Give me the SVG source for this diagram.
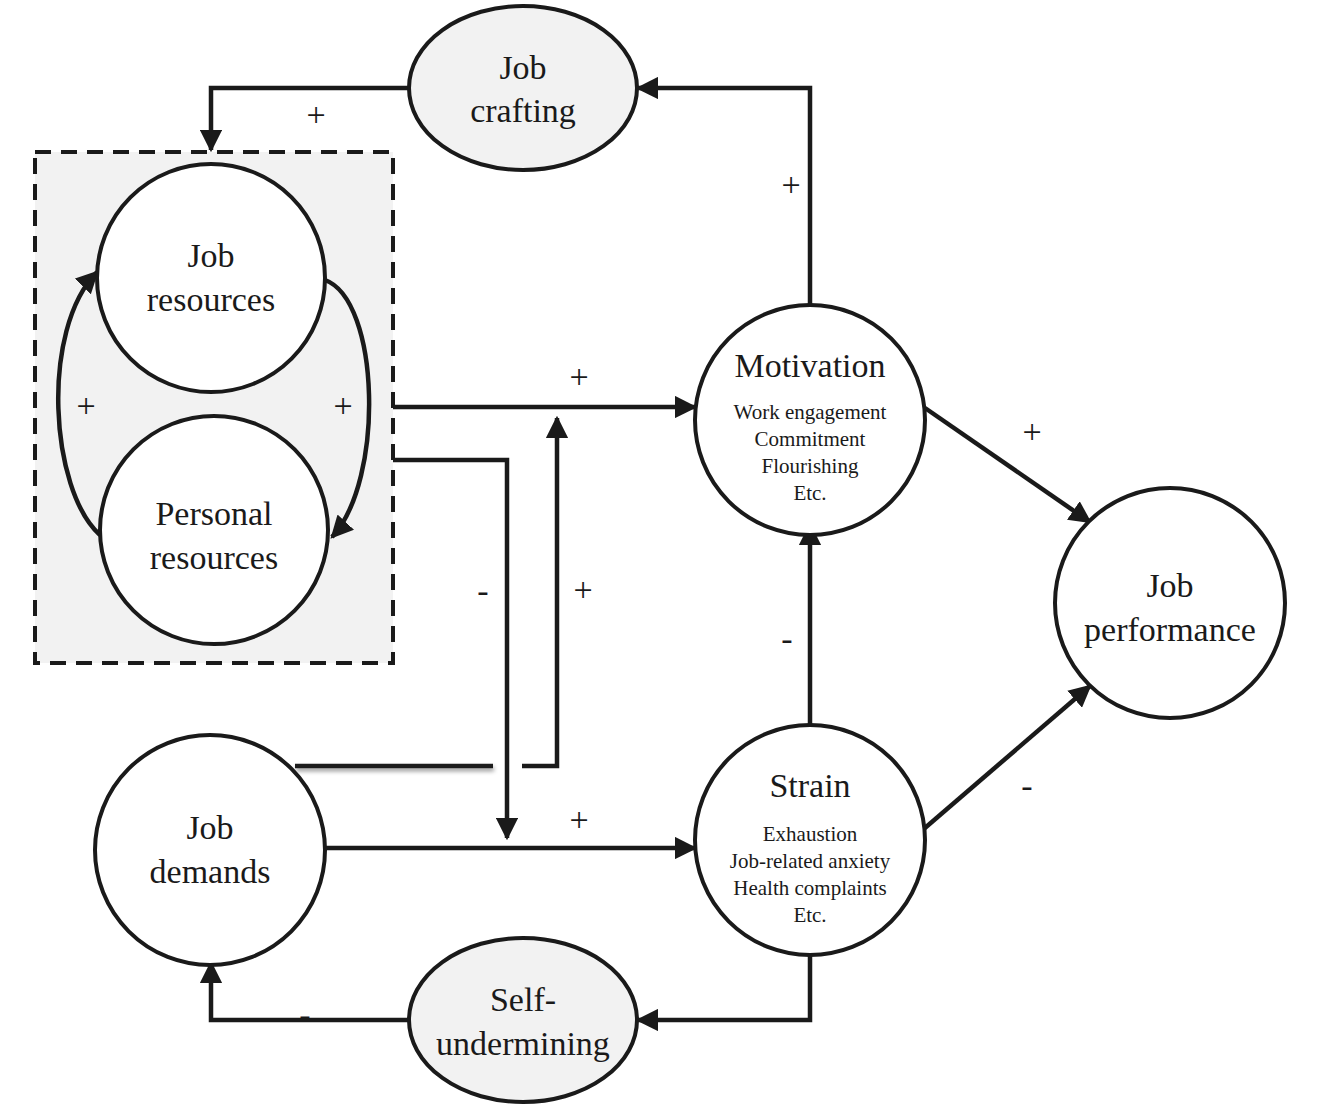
<svg xmlns="http://www.w3.org/2000/svg" width="1319" height="1110" viewBox="0 0 1319 1110">
<defs>
<marker id="a" viewBox="0 0 10 10" refX="9" refY="5" markerWidth="5" markerHeight="5" orient="auto" markerUnits="strokeWidth"><path d="M0,0L10,5L0,10z" fill="#1a1a1a"/></marker>
<filter id="sh" filterUnits="userSpaceOnUse" x="280" y="750" width="230" height="35"><feDropShadow dx="1" dy="3" stdDeviation="2" flood-color="#000" flood-opacity="0.4"/></filter>
</defs>
<style>
.n{fill:#fff;stroke:#1a1a1a;stroke-width:4}
.g{fill:#f2f2f2;stroke:#1a1a1a;stroke-width:4}
.c{fill:none;stroke:#1a1a1a;stroke-width:4.5;marker-end:url(#a)}
.l{fill:none;stroke:#1a1a1a;stroke-width:4.5}
text{font-family:"Liberation Serif","Times New Roman",serif;fill:#1a1a1a;text-anchor:middle}
.b{font-size:34px}
.s{font-size:21px}
.p{font-size:34px}
</style>
<rect x="35" y="152" width="358" height="511" fill="#f2f2f2" stroke="#1a1a1a" stroke-width="4" stroke-dasharray="16,10"/>
<g id="connectors">
<path class="c" d="M410,88H211V150"/>
<path class="c" d="M810,305V88H638"/>
<path class="c" d="M393,407H695"/>
<path class="c" d="M393,460H507V838"/>
<path class="l" d="M295,766H493" filter="url(#sh)"/>
<path class="c" d="M522,766H557V418"/>
<path class="c" d="M325,848H695"/>
<path class="c" d="M810,725V525"/>
<path class="c" d="M925,408L1090,522"/>
<path class="c" d="M897,852L1090,686"/>
<path class="c" d="M810,955V1020H638"/>
<path class="c" d="M410,1020H211V963"/>
<path class="c" d="M100,535C50,490 40,330 97,272"/>
<path class="c" d="M325,280C380,300 385,480 332,537"/>
<text class="p" x="316" y="126">+</text>
<text class="p" x="791" y="196">+</text>
<text class="p" x="579" y="388">+</text>
<text class="p" x="483" y="602">-</text>
<text class="p" x="583" y="601">+</text>
<text class="p" x="579" y="831">+</text>
<text class="p" x="787" y="650">-</text>
<text class="p" x="1032" y="443">+</text>
<text class="p" x="1027" y="797">-</text>
<text class="p" x="305" y="1026">-</text>
<text class="p" x="86" y="417">+</text>
<text class="p" x="343" y="417">+</text>
</g>
<g id="jobcrafting"><ellipse class="g" cx="523" cy="88" rx="114" ry="82"/><text class="b" x="523" y="79">Job</text><text class="b" x="523" y="122">crafting</text></g>
<g id="jobresources"><circle class="n" cx="211" cy="278" r="114"/><text class="b" x="211" y="267">Job</text><text class="b" x="211" y="311">resources</text></g>
<g id="personalresources"><circle class="n" cx="214" cy="530" r="114"/><text class="b" x="214" y="525">Personal</text><text class="b" x="214" y="569">resources</text></g>
<g id="motivation"><circle class="n" cx="810" cy="420" r="115"/><text class="b" x="810" y="377">Motivation</text><text class="s" x="810" y="419">Work engagement</text><text class="s" x="810" y="446">Commitment</text><text class="s" x="810" y="473">Flourishing</text><text class="s" x="810" y="500">Etc.</text></g>
<g id="strain"><circle class="n" cx="810" cy="840" r="115"/><text class="b" x="810" y="797">Strain</text><text class="s" x="810" y="841">Exhaustion</text><text class="s" x="810" y="868">Job-related anxiety</text><text class="s" x="810" y="895">Health complaints</text><text class="s" x="810" y="922">Etc.</text></g>
<g id="jobperformance"><circle class="n" cx="1170" cy="603" r="115"/><text class="b" x="1170" y="597">Job</text><text class="b" x="1170" y="641">performance</text></g>
<g id="jobdemands"><circle class="n" cx="210" cy="850" r="115"/><text class="b" x="210" y="839">Job</text><text class="b" x="210" y="883">demands</text></g>
<g id="selfundermining"><ellipse class="g" cx="523" cy="1020" rx="114" ry="82"/><text class="b" x="523" y="1011">Self-</text><text class="b" x="523" y="1055">undermining</text></g>
</svg>
